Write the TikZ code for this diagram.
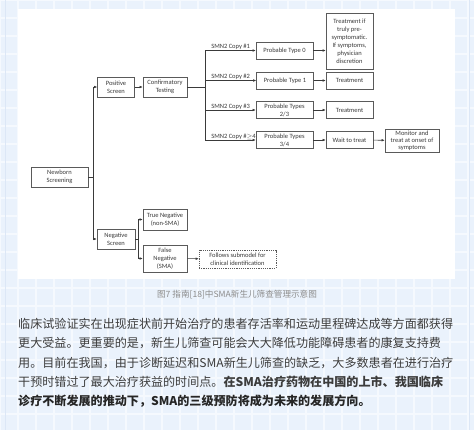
\documentclass[tikz,border=0pt]{standalone}
\usepackage{fontspec}
\setmainfont{Carlito}
\newfontfamily\cjk{Noto Sans CJK SC}
\usepackage{tikz}
\usetikzlibrary{arrows.meta, positioning}
\definecolor{pagebg}{HTML}{EAF2FC}
\definecolor{pagegrid}{HTML}{F5F9FE}
\definecolor{pageedge}{HTML}{DCE7F6}
\definecolor{boxline}{HTML}{5A5A5A}
\definecolor{boxtext}{HTML}{3A3A3A}
\definecolor{linkcol}{HTML}{3A3A3A}
\definecolor{bodytext}{HTML}{3C3C3C}
\definecolor{captext}{HTML}{8C8C8C}
\newcommand{\dfont}{\fontsize{6.5}{8}\selectfont}
\newcommand{\bodyline}[1]{\hbox to 435pt{\XeTeXlinebreaklocale "zh"\XeTeXlinebreakskip=0pt plus 2pt\relax #1}}

\begin{document}
\begin{tikzpicture}[x=1pt, y=-1pt,
    box/.style={draw=boxline, fill=white, line width=0.6pt, align=center, font=\dfont, text=boxtext, inner sep=0.8pt},
    dashbox/.style={box, dash pattern=on 1.2pt off 1pt},
    link/.style={draw=linkcol, line width=0.55pt},
    arr/.style={link, -{Latex[length=3pt,width=2.6pt]}},
    copylbl/.style={font=\dfont, text=boxtext, inner sep=0.5pt, anchor=south west, pos=0, xshift=5.5pt},
    bodytxt/.style={anchor=west, inner sep=0pt, text=bodytext, font=\cjk\fontsize{12.08}{14}\selectfont},
  ]
  \useasboundingbox (0,0) rectangle (474,430);
  % page background and white panel
  \fill[pagebg] (0,0) rectangle (474,430);
  \draw[pagegrid, line width=1.5pt, step=18pt] (0,0) grid (474,430);
  \draw[pageedge, line width=1pt] (5,0) -- (5,430);
  \draw[pageedge, line width=1pt] (469,0) -- (469,430);
  \fill[white] (18,9) rectangle (455,279);

  % screening tree
  \node[box, minimum width=57pt, minimum height=20pt] (nb) at (59.5,177) {Newborn\\Screening};
  \node[box, minimum width=37pt, minimum height=20pt] (pos) at (116,87) {Positive\\Screen};
  \node[box, minimum width=44pt, minimum height=20pt] (conf) at (165,87) {Confirmatory\\Testing};
  \node[box, minimum width=38pt, minimum height=20pt] (neg) at (116,239) {Negative\\Screen};
  \node[box, minimum width=44pt, minimum height=21pt] (tneg) at (165,219.5) {True Negative\\(non-SMA)};
  \node[box, minimum width=44pt, minimum height=27pt] (fneg) at (165,258.5) {False\\Negative\\(SMA)};
  \node[dashbox, minimum width=77pt, minimum height=18pt] (sub) at (237.5,259) {Follows submodel for\\clinical identification};

  \node[box, minimum width=57pt, minimum height=17pt] (t0) at (284.5,50.5) {Probable Type 0};
  \node[box, minimum width=57pt, minimum height=17pt] (t1) at (285,80.5) {Probable Type 1};
  \node[box, minimum width=57pt, minimum height=17pt] (t23) at (284.5,110) {Probable Types\\2/3};
  \node[box, minimum width=57pt, minimum height=17pt] (t34) at (284.5,140) {Probable Types\\3/4};

  \node[box, minimum width=47pt, minimum height=56pt] (r0) at (349.5,41) {Treatment if\\truly pre-\\symptomatic.\\If symptoms,\\physician\\discretion};
  \node[box, minimum width=47pt, minimum height=17pt] (r1) at (349.5,80.5) {Treatment};
  \node[box, minimum width=47pt, minimum height=17pt] (r23) at (349.5,110) {Treatment};
  \node[box, minimum width=47pt, minimum height=17pt] (r34) at (349.5,140) {Wait to treat};
  \node[box, minimum width=54pt, minimum height=23pt, font=\fontsize{6.5}{7.2}\selectfont] (mon) at (412,140.5) {Monitor and\\treat at onset of\\symptoms};

  % branch points
  \coordinate (jn) at (93,177);
  \coordinate (jp) at (205,87);
  \coordinate (jg) at (138,239);

  \draw[link] (nb.east) -- (jn);
  \draw[link] (jn |- pos) -- (jn |- neg);
  \draw[arr] (jn |- pos) -- (pos);
  \draw[arr] (jn |- neg) -- (neg);
  \draw[arr] (pos) -- (conf);

  \draw[link] (conf.east) -- (jp);
  \draw[link] (jp |- t0) -- (jp |- t34);
  \draw[arr] (jp |- t0) -- node[copylbl] {SMN2 Copy \#1} (t0);
  \draw[arr] (jp |- t1) -- node[copylbl] {SMN2 Copy \#2} (t1);
  \draw[arr] (jp |- t23) -- node[copylbl] {SMN2 Copy \#3} (t23);
  \draw[arr] (jp |- t34) -- node[copylbl] {SMN2 Copy \#\ensuremath{\geq}4} (t34);

  \draw[arr] (t0.east) -- (t0.east -| r0.west);
  \draw[arr] (t1) -- (r1);
  \draw[arr] (t23) -- (r23);
  \draw[arr] (t34) -- (r34);
  \draw[arr] (r34) -- (mon);

  \draw[link] (neg.east) -- (jg);
  \draw[link] (jg |- tneg) -- (jg |- fneg);
  \draw[arr] (jg |- tneg) -- (tneg);
  \draw[arr] (jg |- fneg) -- (fneg);
  \draw[arr] (fneg) -- (sub);

  % caption and article text
  \node[text=captext, font=\cjk\fontsize{8.6}{10}\selectfont, inner sep=0pt] (cap) at (237,295) {图7 指南[18]中SMA新生儿筛查管理示意图};
  \node[bodytxt] (p1) at (18,324) {\bodyline{临床试验证实在出现症状前开始治疗的患者存活率和运动里程碑达成等方面都获得}};
  \node[bodytxt] (p2) at (18,343.4) {\bodyline{更大受益。更重要的是，新生儿筛查可能会大大降低功能障碍患者的康复支持费}};
  \node[bodytxt] (p3) at (18,362.8) {\bodyline{用。目前在我国，由于诊断延迟和SMA新生儿筛查的缺乏，大多数患者在进行治疗}};
  \node[bodytxt] (p4) at (18,382.2) {\bodyline{干预时错过了最大治疗获益的时间点。{\bfseries 在SMA治疗药物在中国的上市、我国临床}}};
  \node[bodytxt, text=black!85] (p5) at (18,401.6) {\bfseries 诊疗不断发展的推动下，SMA的三级预防将成为未来的发展方向。};
\end{tikzpicture}
\end{document}
